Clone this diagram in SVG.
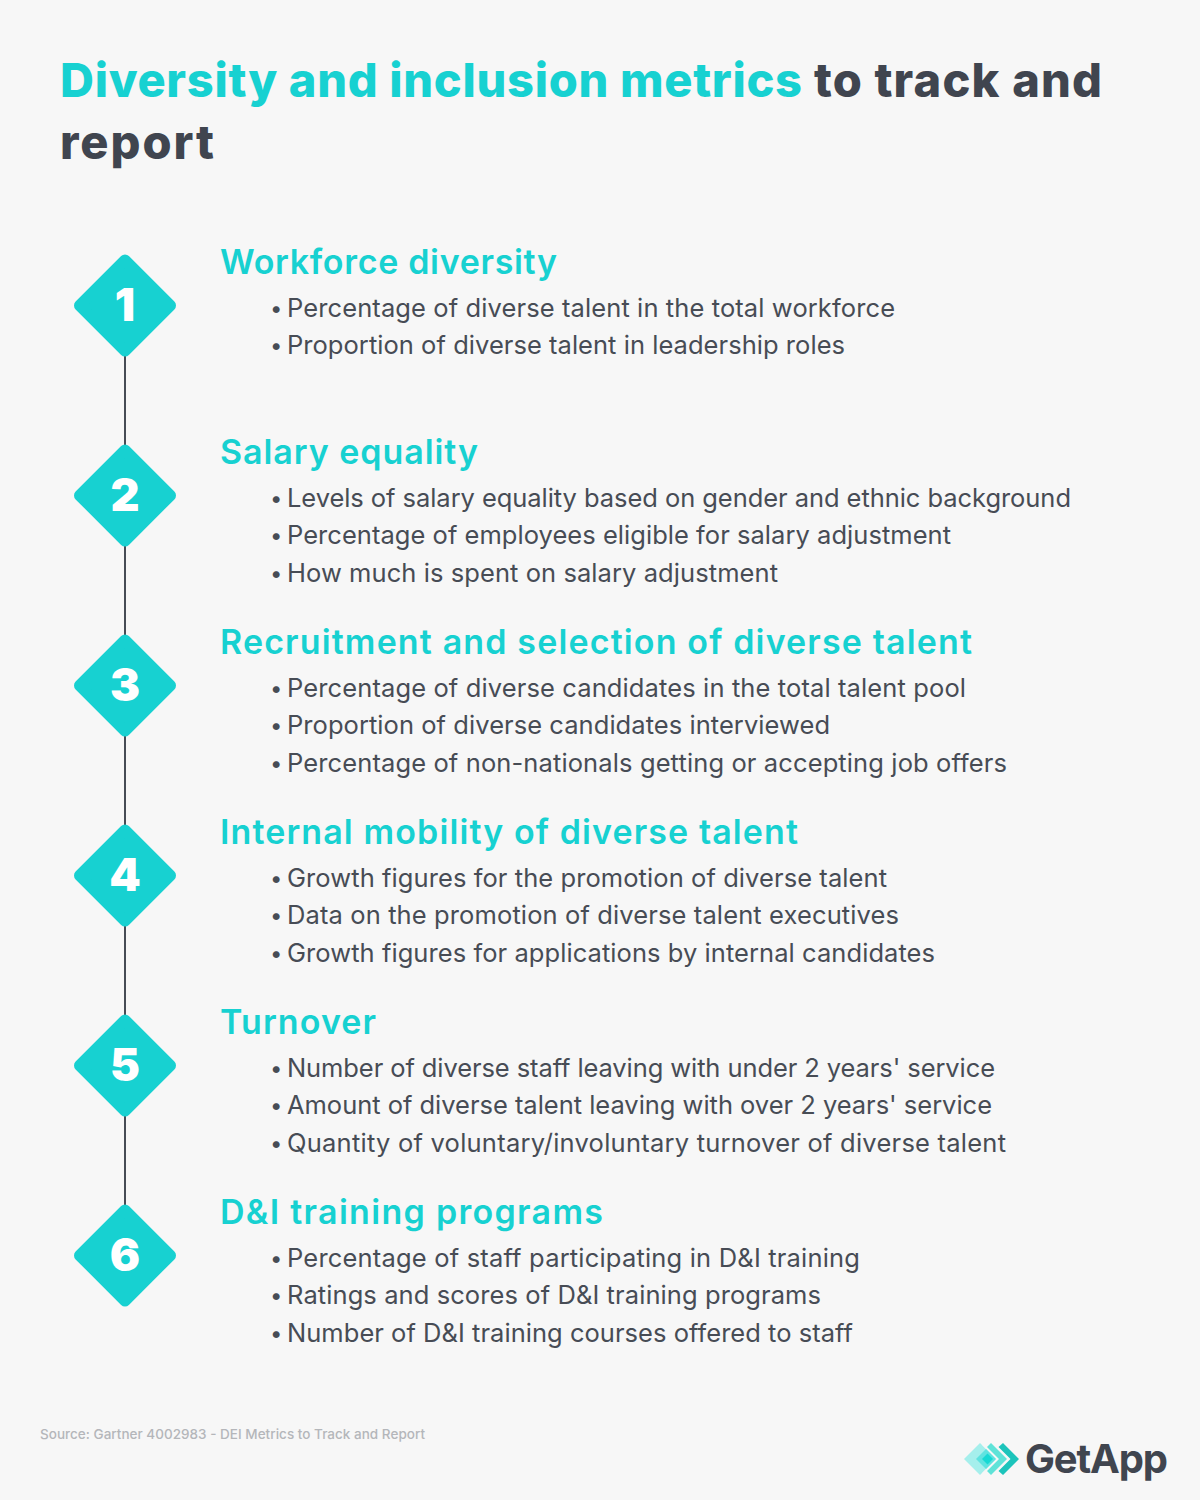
<svg xmlns="http://www.w3.org/2000/svg" width="1200" height="1500" viewBox="0 0 1200 1500">
<style>
text{font-family:"Inter","Noto Sans",sans-serif}
.t{font-size:47px;font-weight:800}
.h{font-size:34px;font-weight:600;fill:#17d1d1}
.b{font-size:25.5px;fill:#474c55}
.u{font-size:22px;fill:#474c55}
.n{font-size:45px;font-weight:900;fill:#fff;text-anchor:middle}
.d{fill:#17d1d1;stroke:#17d1d1;stroke-width:11;stroke-linejoin:round}
.c{stroke:#474c55;stroke-width:2;fill:none}
</style>
<rect width="1200" height="1500" fill="#f7f7f7"/>
<text class="t" x="60" y="97" fill="#17d1d1" textLength="742">Diversity and inclusion metrics</text>
<text class="t" x="814" y="97" fill="#40454f" textLength="288">to track and</text>
<text class="t" x="60" y="159" fill="#40454f" textLength="154">report</text>
<g id="connectors"><path class="c" d="M125 350V1250"/></g>
<g id="node1"><path class="d" d="M125 260L170.500 305.500L125 351L79.500 305.500Z"/><text class="n" x="125" y="321">1</text>
<text class="h" x="220" y="274" textLength="337">Workforce diversity</text>
<text class="u" x="270" y="316">•</text><text class="b" x="287" y="317" textLength="608">Percentage of diverse talent in the total workforce</text>
<text class="u" x="270" y="353">•</text><text class="b" x="287" y="354" textLength="558">Proportion of diverse talent in leadership roles</text></g>
<g id="node2"><path class="d" d="M125 450L170.500 495.500L125 541L79.500 495.500Z"/><text class="n" x="125" y="511">2</text>
<text class="h" x="220" y="464" textLength="258">Salary equality</text>
<text class="u" x="270" y="506">•</text><text class="b" x="287" y="507" textLength="784">Levels of salary equality based on gender and ethnic background</text>
<text class="u" x="270" y="543">•</text><text class="b" x="287" y="544" textLength="664">Percentage of employees eligible for salary adjustment</text>
<text class="u" x="270" y="581">•</text><text class="b" x="287" y="582" textLength="491">How much is spent on salary adjustment</text></g>
<g id="node3"><path class="d" d="M125 640L170.500 685.500L125 731L79.500 685.500Z"/><text class="n" x="125" y="701">3</text>
<text class="h" x="220" y="654" textLength="752">Recruitment and selection of diverse talent</text>
<text class="u" x="270" y="696">•</text><text class="b" x="287" y="697" textLength="679">Percentage of diverse candidates in the total talent pool</text>
<text class="u" x="270" y="733">•</text><text class="b" x="287" y="734" textLength="543">Proportion of diverse candidates interviewed</text>
<text class="u" x="270" y="771">•</text><text class="b" x="287" y="772" textLength="720">Percentage of non-nationals getting or accepting job offers</text></g>
<g id="node4"><path class="d" d="M125 830L170.500 875.500L125 921L79.500 875.500Z"/><text class="n" x="125" y="891">4</text>
<text class="h" x="220" y="844" textLength="578">Internal mobility of diverse talent</text>
<text class="u" x="270" y="886">•</text><text class="b" x="287" y="887" textLength="600">Growth figures for the promotion of diverse talent</text>
<text class="u" x="270" y="923">•</text><text class="b" x="287" y="924" textLength="612">Data on the promotion of diverse talent executives</text>
<text class="u" x="270" y="961">•</text><text class="b" x="287" y="962" textLength="648">Growth figures for applications by internal candidates</text></g>
<g id="node5"><path class="d" d="M125 1020L170.500 1065.500L125 1111L79.500 1065.500Z"/><text class="n" x="125" y="1081">5</text>
<text class="h" x="220" y="1034" textLength="156">Turnover</text>
<text class="u" x="270" y="1076">•</text><text class="b" x="287" y="1077" textLength="708">Number of diverse staff leaving with under 2 years' service</text>
<text class="u" x="270" y="1113">•</text><text class="b" x="287" y="1114" textLength="705">Amount of diverse talent leaving with over 2 years' service</text>
<text class="u" x="270" y="1151">•</text><text class="b" x="287" y="1152" textLength="719">Quantity of voluntary/involuntary turnover of diverse talent</text></g>
<g id="node6"><path class="d" d="M125 1210L170.500 1255.500L125 1301L79.500 1255.500Z"/><text class="n" x="125" y="1271">6</text>
<text class="h" x="220" y="1224" textLength="383">D&amp;I training programs</text>
<text class="u" x="270" y="1266">•</text><text class="b" x="287" y="1267" textLength="573">Percentage of staff participating in D&amp;I training</text>
<text class="u" x="270" y="1303">•</text><text class="b" x="287" y="1304" textLength="534">Ratings and scores of D&amp;I training programs</text>
<text class="u" x="270" y="1341">•</text><text class="b" x="287" y="1342" textLength="566">Number of D&amp;I training courses offered to staff</text></g>
<text x="40" y="1439" font-size="13.500" font-weight="500" fill="#b4b6ba" textLength="385">Source: Gartner 4002983 - DEI Metrics to Track and Report</text>
<g id="logo">
<path d="M964 1459L980 1443L996 1459L980 1475Z" fill="#a5efec"/>
<path d="M976 1459L987.500 1447.500L999 1459L987.500 1470.500Z" fill="#5fe3e0"/>
<path d="M982 1459L987.500 1453.500L993 1459L987.500 1464.500Z" fill="#17d9d4"/>
<path d="M983 1444L998 1459L983 1474" fill="none" stroke="#f7f7f7" stroke-width="2.500"/>
<path d="M991 1443L1007 1459L991 1475L987 1471L999 1459L987 1447Z" fill="#5fe3d8"/>
<path d="M1003 1443L1019 1459L1003 1475L998.500 1471L1010.500 1459L998.500 1447Z" fill="#1cc4bb"/>
<text x="1025" y="1473" font-size="40" font-weight="700" fill="#40454f" textLength="143">GetApp</text></g>
</svg>
